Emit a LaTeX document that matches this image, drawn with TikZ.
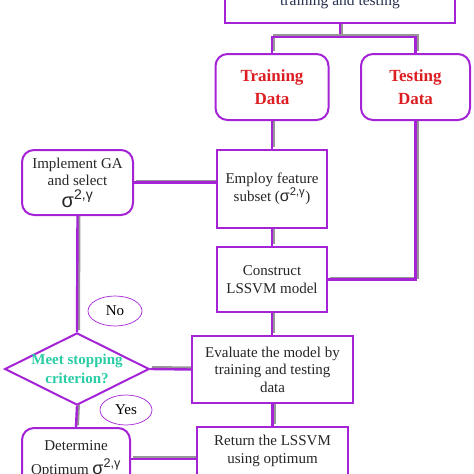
\documentclass[tikz,border=0pt]{standalone}
\usepackage{fontspec}
\setmainfont{Liberation Serif}
\newfontfamily\greekfont{Liberation Sans}
\usetikzlibrary{shapes.geometric, backgrounds}
\definecolor{boxpurple}{RGB}{165,35,215}
\definecolor{shadowgray}{RGB}{150,150,150}
\definecolor{datared}{RGB}{220,30,35}
\definecolor{critgreen}{RGB}{40,205,165}
\definecolor{topnavy}{RGB}{40,50,80}
\tikzset{
  flowbox/.style={draw=boxpurple, line width=2pt, fill=white, text=black!85, align=center, inner sep=0pt, font=\fontsize{15}{17.5}\selectfont},
  roundbox/.style={flowbox, rounded corners=12pt},
  datbox/.style={roundbox, text=datared, font=\fontsize{17}{23}\selectfont\bfseries},
  link/.style={boxpurple, line width=2.4pt, preaction={draw=shadowgray, line width=2.4pt, transform canvas={shift={(1.8pt,1.8pt)}}}},
  tag/.style={ellipse, draw=boxpurple, line width=0.7pt, fill=white, inner sep=0pt, font=\fontsize{15}{17}\selectfont}
}
\newcommand{\sigmasup}[1]{{\greekfont\fontsize{#1}{#1}\selectfont σ\textsuperscript{2,γ}}}

\begin{document}
\begin{tikzpicture}[x=1pt, y=-1pt]
\useasboundingbox (0,0) rectangle (474,474);

\node[flowbox, anchor=south, minimum width=230pt, inner ysep=14pt, text=topnavy, font=\fontsize{15.5}{18}\selectfont] (split) at (340,24) {training and testing};
\node[datbox, minimum width=113pt, minimum height=66pt] (training) at (272,87) {Training\\Data};
\node[datbox, minimum width=109pt, minimum height=66pt] (testing) at (415.5,87) {Testing\\Data};
\node[flowbox, minimum width=110pt, minimum height=78pt] (employ) at (272,189) {Employ feature\\subset (\sigmasup{16})};
\node[roundbox, minimum width=111pt, minimum height=65pt] (implement) at (77.5,182.5) {Implement GA\\and select\\[4pt]\sigmasup{20}};
\node[flowbox, minimum width=110pt, minimum height=65pt] (construct) at (272,279.5) {Construct\\LSSVM model};
\node[flowbox, minimum width=161pt, minimum height=67pt] (evaluate) at (272.5,369.5) {Evaluate the model by\\training and testing\\data};
\node[diamond, aspect=2, draw=boxpurple, line width=2pt, fill=white, inner sep=-1pt, align=center, text=critgreen, font=\fontsize{15}{19}\selectfont\bfseries] (stop) at (77,369) {Meet stopping\\criterion?};
\node[roundbox, anchor=north, minimum width=108pt, minimum height=62pt] (determine) at (76,427) {Determine\\[6pt]Optimum \sigmasup{18}};
\node[flowbox, anchor=north, minimum width=151pt, minimum height=62pt] (return) at (272.5,426) {Return the LSSVM\\using optimum\\\mbox{}};
\node[tag, minimum width=54pt, minimum height=30pt] (no) at (115,311) {No};
\node[tag, minimum width=52pt, minimum height=30pt] (yes) at (126,410) {Yes};

\begin{scope}[on background layer]
\coordinate (fork) at (340,37);
\draw[link] (split.south) -- (fork);
\draw[link] (training.north) |- (fork) -| (testing.north);
\draw[link] (training.south) -- (employ.north);
\draw[link] (employ.south) -- (construct.north);
\draw[link] (construct.south) -- (construct.south |- evaluate.north);
\draw[link] (evaluate.south) -- (return.north);
\draw[link] (testing.south) |- (construct.east);
\draw[link] (implement.east) -- (implement.east -| employ.west);
\draw[link] (implement.south) -- (stop.north);
\draw[link] (stop.east) -- (evaluate.west);
\draw[link] (stop.south) -- (determine.north);
\draw[link] (determine.east) -- (determine.east -| return.west);
\end{scope}
\end{tikzpicture}
\end{document}
